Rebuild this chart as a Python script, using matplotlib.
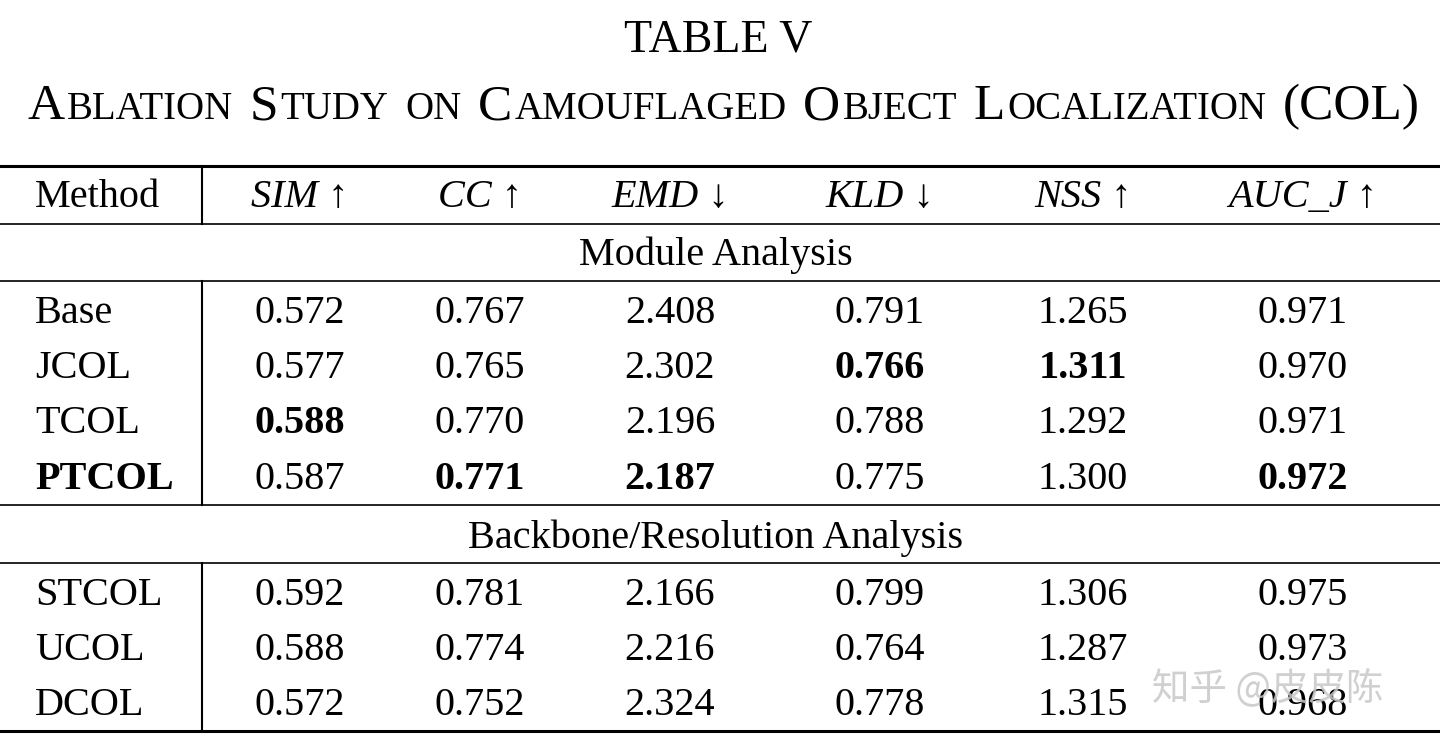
import matplotlib
matplotlib.use("Agg")
import matplotlib.pyplot as plt

methods = ["Base", "JCOL", "TCOL", "PTCOL", "STCOL", "UCOL", "DCOL"]
headers = ["SIM ↑", "CC ↑", "EMD ↓", "KLD ↓", "NSS ↑", "AUC_J ↑"]
values = [
    [0.572, 0.767, 2.408, 0.791, 1.265, 0.971],
    [0.577, 0.765, 2.302, 0.766, 1.311, 0.970],
    [0.588, 0.770, 2.196, 0.788, 1.292, 0.971],
    [0.587, 0.771, 2.187, 0.775, 1.300, 0.972],
    [0.592, 0.781, 2.166, 0.799, 1.306, 0.975],
    [0.588, 0.774, 2.216, 0.764, 1.287, 0.973],
    [0.572, 0.752, 2.324, 0.778, 1.315, 0.968],
]
bold = {(1, 3), (1, 4), (2, 0), (3, 1), (3, 2), (3, 5)}
bold_methods = {"PTCOL"}
sections = ["Module Analysis", "Backbone/Resolution Analysis"]

W, H = 1440, 751
fig = plt.figure(figsize=(14.4, 7.51), dpi=100)
ax = fig.add_axes([0, 0, 1, 1])
ax.set_xlim(0, W); ax.set_ylim(H, 0); ax.axis("off")
SER = ["Liberation Serif", "DejaVu Serif"]
FS = 29

ax.text(718, 35, "TABLE V", ha="center", va="center_baseline", fontsize=33, family=SER)

# small-caps subtitle
segs = []
for wi, word in enumerate("ABLATION STUDY ON CAMOUFLAGED OBJECT LOCALIZATION (COL)".split()):
    if wi:
        segs.append((" ", 37))
    if word == "ON":
        segs.append((word, 28))
    elif word.startswith("("):
        segs.append((word, 37))
    else:
        segs.append((word[0], 37)); segs.append((word[1:], 28))
fig.canvas.draw()
r = fig.canvas.get_renderer()
x = 28
for s, sz in segs:
    t = ax.text(x, 119, s, ha="left", va="baseline", fontsize=sz, family=SER)
    bb = t.get_window_extent(r)
    x += bb.width + 2 if s != " " else sz * 0.4

# lines
for y, lw in [(166, 2.2), (224, 1.2), (281, 1.2), (505, 1.2), (563, 1.2), (731, 2.2)]:
    ax.plot([0, W], [y, y], color="black", lw=lw)
for y0, y1 in [(166, 224), (281, 505), (563, 731)]:
    ax.plot([202, 202], [y0, y1], color="black", lw=1.5)

cols = [300, 480, 670, 880, 1083, 1303]
ax.text(35, 193, "Method", ha="left", va="center_baseline", fontsize=FS, family=SER)
for cx, h in zip(cols, headers):
    ax.text(cx, 193, h, ha="center", va="center_baseline", fontsize=FS, family=SER,
            style="italic")
ax.text(716, 251, sections[0], ha="center", va="center_baseline", fontsize=FS, family=SER)
ax.text(716, 534, sections[1], ha="center", va="center_baseline", fontsize=FS, family=SER)

rows_y = [309, 364, 419, 475, 591, 646, 701]
for i, (m, yy) in enumerate(zip(methods, rows_y)):
    ax.text(35, yy, m, ha="left", va="center_baseline", fontsize=FS, family=SER,
            weight="bold" if m in bold_methods else "normal")
    for j, cx in enumerate(cols):
        ax.text(cx, yy, f"{values[i][j]:.3f}", ha="center", va="center_baseline",
                fontsize=FS, family=SER, weight="bold" if (i, j) in bold else "normal")

ax.text(1268, 690, "知乎 @皮皮陈", ha="center", va="center", fontsize=27,
        family=["Noto Sans CJK SC", "DejaVu Sans"], color="#c8c8c8", alpha=0.85)

fig.savefig("out.png", dpi=100)
